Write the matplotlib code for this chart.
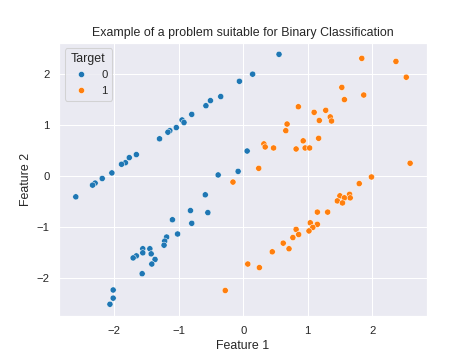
import matplotlib
matplotlib.use('Agg')
import matplotlib.pyplot as plt
import seaborn as sns
import pandas as pd

# 类别 0 的点
x0 = [-0.06, -0.58, -0.51, -0.35, -0.80, -0.95, -0.92, -1.04, -1.14, -1.17,
      -1.30, -1.66, -1.77, -1.83, -1.89, -2.04, -2.19, -2.30, -2.34, 0.06,
      -0.08, -0.39, 0.555, 0.145, -2.60, -0.59, -0.82, -0.55, -1.10, -0.80,
      -1.02, -1.19, -1.22, -1.23, -1.56, -1.45, -1.56, -1.43, -1.66, -1.71,
      -1.37, -1.42, -1.57, -2.02, -2.02, -2.07]
y0 = [1.86, 1.38, 1.48, 1.56, 1.21, 1.10, 1.05, 0.95, 0.89, 0.86,
      0.73, 0.42, 0.36, 0.26, 0.23, 0.06, -0.05, -0.14, -0.18, 0.49,
      0.09, 0.02, 2.39, 2.00, -0.41, -0.37, -0.68, -0.72, -0.86, -0.93,
      -1.14, -1.20, -1.28, -1.36, -1.43, -1.43, -1.51, -1.53, -1.57, -1.61,
      -1.64, -1.73, -1.92, -2.24, -2.40, -2.52]

# 类别 1 的点
x1 = [-0.16, 1.84, 2.37, 2.53, 1.53, 1.57, 1.87, 0.855, 1.10, 1.28,
      1.18, 1.35, 1.37, 0.68, 0.66, 0.93, 1.17, 0.32, 0.34, 0.47,
      0.82, 0.96, 1.03, 2.59, 0.24, 1.99, 1.80, 1.50, 1.57, 1.65,
      1.66, 1.46, 1.54, 1.15, 1.31, 1.04, 1.15, 1.08, 1.02, 0.82,
      0.86, 0.77, 0.62, 0.71, 0.45, 0.07, 0.25, -0.28]
y1 = [-0.12, 2.31, 2.25, 1.94, 1.74, 1.50, 1.59, 1.36, 1.25, 1.29,
      1.09, 1.16, 1.08, 1.02, 0.89, 0.69, 0.74, 0.63, 0.57, 0.55,
      0.53, 0.55, 0.55, 0.25, 0.15, -0.02, -0.15, -0.39, -0.43, -0.36,
      -0.43, -0.49, -0.53, -0.71, -0.71, -0.92, -0.95, -1.01, -1.08, -1.05,
      -1.15, -1.21, -1.32, -1.43, -1.49, -1.73, -1.80, -2.25]

df = pd.DataFrame({
    'Feature 1': x0 + x1,
    'Feature 2': y0 + y1,
    'Target': [0] * len(x0) + [1] * len(x1),
})

sns.set_theme(style='darkgrid')
# Arial 的替代字体
plt.rcParams['font.family'] = ['Liberation Sans', 'DejaVu Sans']

fig, ax = plt.subplots(figsize=(474 / 74, 355 / 74), dpi=74)
sns.scatterplot(data=df, x='Feature 1', y='Feature 2', hue='Target',
                palette=['#1f77b4', '#ff7f0e'], ax=ax)
ax.set_xlim(-2.857, 2.846)
ax.set_ylim(-2.75, 2.62)
ax.set_title('Example of a problem suitable for Binary Classification')
ax.legend(title='Target', loc='upper left')

plt.savefig('out.png', dpi=74)
plt.close()
